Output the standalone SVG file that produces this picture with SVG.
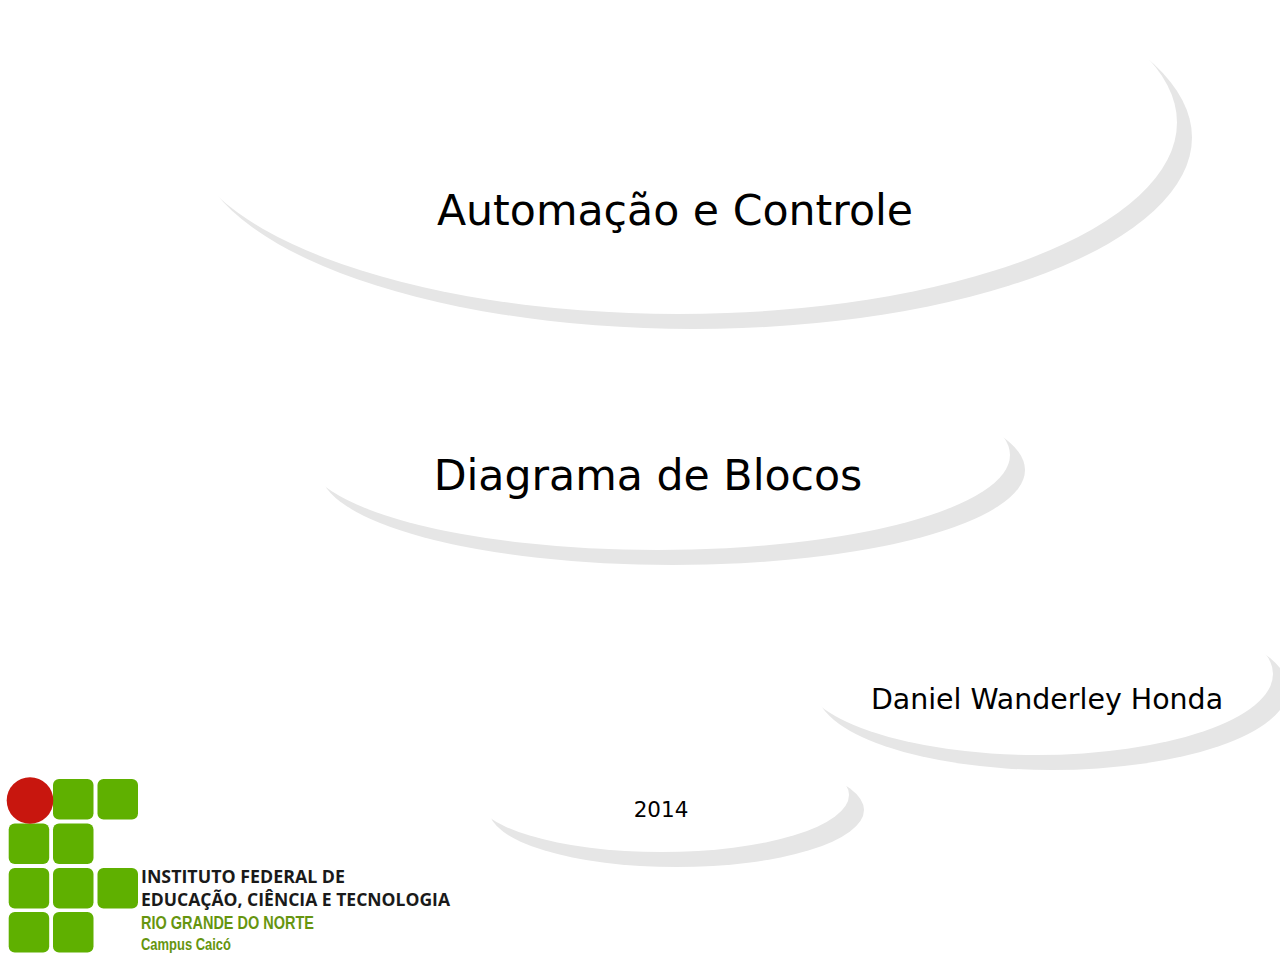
<svg xmlns="http://www.w3.org/2000/svg" width="1280" height="960" viewBox="0 0 1280 960">
<style>
.sh{fill:#e6e6e6}
.wh{fill:#fff}
.t{font-family:"DejaVu Sans",sans-serif;fill:#000}
.g{fill:#5fb000}
.k{font-family:"Open Sans",sans-serif;font-weight:700;fill:#1a1a1a}
.v{font-family:"Liberation Sans",sans-serif;font-weight:700;fill:#66950f}
</style>
<rect width="1280" height="960" fill="#fff"/>
<g id="title">
<ellipse class="sh" cx="693" cy="137.500" rx="499" ry="191.500"/>
<ellipse class="wh" cx="678" cy="122.500" rx="499" ry="191.500"/>
<text class="t" x="675" y="225" font-size="42.670" text-anchor="middle">Automação e Controle</text>
</g>
<g id="subtitle">
<ellipse class="sh" cx="672.500" cy="470" rx="352.500" ry="95"/>
<ellipse class="wh" cx="657.500" cy="455" rx="352.500" ry="95"/>
<text class="t" x="648" y="490" font-size="42.670" text-anchor="middle">Diagrama de Blocos</text>
</g>
<g id="author">
<ellipse class="sh" cx="1052" cy="689" rx="236" ry="81"/>
<ellipse class="wh" cx="1037" cy="674" rx="236" ry="81"/>
<text class="t" x="1047" y="709" font-size="28.440" text-anchor="middle">Daniel Wanderley Honda</text>
</g>
<g id="date">
<ellipse class="sh" cx="676.500" cy="810" rx="187.500" ry="57"/>
<ellipse class="wh" cx="661.500" cy="795" rx="187.500" ry="57"/>
<text class="t" x="661" y="817" font-size="21.500" text-anchor="middle">2014</text>
</g>
<g id="logo">
<rect class="g" x="53" y="779" width="40.500" height="40.500" rx="6"/>
<rect class="g" x="97.500" y="779" width="40.500" height="40.500" rx="6"/>
<rect class="g" x="8.700" y="823.500" width="40.500" height="40.500" rx="6"/>
<rect class="g" x="53" y="823.500" width="40.500" height="40.500" rx="6"/>
<rect class="g" x="8.700" y="868" width="40.500" height="40.500" rx="6"/>
<rect class="g" x="53" y="868" width="40.500" height="40.500" rx="6"/>
<rect class="g" x="97.500" y="868" width="40.500" height="40.500" rx="6"/>
<rect class="g" x="8.700" y="912" width="40.500" height="40.500" rx="6"/>
<rect class="g" x="53" y="912" width="40.500" height="40.500" rx="6"/>
<circle cx="30" cy="800.500" r="23.300" fill="#c8160e"/>
<text class="k" x="141" y="883.300" font-size="18.500" textLength="204" lengthAdjust="spacingAndGlyphs">INSTITUTO FEDERAL DE</text>
<text class="k" x="141" y="906" font-size="18.500" textLength="309" lengthAdjust="spacingAndGlyphs">EDUCAÇÃO, CIÊNCIA E TECNOLOGIA</text>
<text class="v" x="141" y="929.300" font-size="18" textLength="173" lengthAdjust="spacingAndGlyphs">RIO GRANDE DO NORTE</text>
<text class="v" x="141" y="950" font-size="16.500" textLength="90" lengthAdjust="spacingAndGlyphs">Campus Caicó</text>
</g>
</svg>
